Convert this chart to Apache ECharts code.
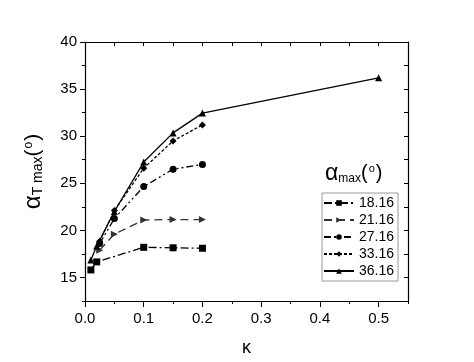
<!DOCTYPE html>
<html>
<head>
<meta charset="utf-8">
<script src="https://cdn.jsdelivr.net/npm/echarts@6/dist/echarts.min.js"></script>
<style>html,body{margin:0;padding:0;background:#fff;}#c{width:474px;height:362px;}</style>
</head>
<body>
<div id="c"></div>
<script>
var seriesNames = ['18.16', '21.16', '27.16', '33.16', '36.16'];
var kappa18 = [0.01, 0.02, 0.1, 0.15, 0.2];
var alpha18 = [15.8, 16.65, 18.2, 18.15, 18.1];
var kappa21 = [0.025, 0.05, 0.1, 0.15, 0.2];
var alpha21 = [17.9, 19.6, 21.1, 21.15, 21.15];
var kappa27 = [0.025, 0.05, 0.1, 0.15, 0.2];
var alpha27 = [18.6, 21.25, 24.65, 26.5, 27.0];
var kappa33 = [0.025, 0.05, 0.1, 0.15, 0.2];
var alpha33 = [18.85, 22.1, 26.6, 29.5, 31.2];
var kappa36 = [0.01, 0.02, 0.05, 0.1, 0.15, 0.2, 0.5];
var alpha36 = [16.85, 18.35, 22.0, 27.25, 30.35, 32.45, 36.2];
var xTicks = [0, 0.1, 0.2, 0.3, 0.4, 0.5];
var xMinorTicks = [0.05, 0.15, 0.25, 0.35, 0.45, 0.55];
var xAllTicks = [0, 0.05, 0.1, 0.15, 0.2, 0.25, 0.3, 0.35, 0.4, 0.45, 0.5, 0.55];
var yTicks = [15, 20, 25, 30, 35, 40];
var yMinorTicks = [12.5, 17.5, 22.5, 27.5, 32.5, 37.5];
var yAllTicks = [12.5, 15, 17.5, 20, 22.5, 25, 27.5, 30, 32.5, 35, 37.5, 40];

function pairs(xs, ys) { return xs.map(function (x, i) { return [x, ys[i]]; }); }

var FONT = '"Liberation Sans", Arial, sans-serif';
var black = '#000';

function mkSeries(name, xs, ys, symbol, rot, dash, color) {
  return {
    name: name, type: 'line', data: pairs(xs, ys),
    xAxisIndex: 0, yAxisIndex: 0,
    symbol: symbol, symbolSize: 7, symbolRotate: rot,
    showAllSymbol: true,
    lineStyle: { color: color, width: 1.3, type: dash },
    itemStyle: { color: color, borderWidth: 0 },
    emphasis: { disabled: true },
    animation: false, z: 5
  };
}

var chart = echarts.init(document.getElementById('c'), null, { renderer: 'canvas' });
var grid = { left: 85, top: 42, right: 66, bottom: 61, containLabel: false };
var xBase = { type: 'value', min: 0, max: 0.55, gridIndex: 0, splitLine: { show: false } };
var yBase = { type: 'value', min: 12.5, max: 40, gridIndex: 0, splitLine: { show: false } };

var titleRich = function (aSize, subSize, pSize, oSize) {
  return {
    a: { fontSize: aSize, fontFamily: FONT, color: black, fill: black, verticalAlign: 'middle', lineHeight: 28 },
    s: { fontSize: subSize, fontFamily: FONT, color: black, fill: black, verticalAlign: 'middle', lineHeight: subSize, padding: [11, 0, 0, 0] },
    p: { fontSize: pSize, fontFamily: FONT, color: black, fill: black, verticalAlign: 'middle', lineHeight: 28 },
    o: { fontSize: oSize, fontFamily: FONT, color: black, fill: black, verticalAlign: 'middle', lineHeight: oSize, padding: [0, 1, 9, 1] }
  };
};

chart.setOption({
  animation: false,
  backgroundColor: '#fff',
  grid: grid,
  xAxis: [
    Object.assign({}, xBase, {
      position: 'bottom',
      name: 'κ', nameLocation: 'middle', nameGap: 38,
      nameTextStyle: { fontFamily: FONT, fontSize: 18, color: black },
      axisLine: { show: true, onZero: false, lineStyle: { color: black, width: 1.2 } },
      axisTick: { show: true, inside: false, length: 6, customValues: xTicks, lineStyle: { color: black, width: 1 } },
      axisLabel: { show: true, customValues: xTicks, margin: 10, fontFamily: FONT, fontSize: 15, color: black,
        formatter: function (v) { return v.toFixed(1); } }
    }),
    Object.assign({}, xBase, {
      position: 'bottom',
      axisLine: { show: false, onZero: false },
      axisTick: { show: true, inside: false, length: 3, customValues: xMinorTicks, lineStyle: { color: black, width: 1 } },
      axisLabel: { show: false }
    }),
    Object.assign({}, xBase, {
      position: 'top',
      axisLine: { show: true, onZero: false, lineStyle: { color: black, width: 1.2 } },
      axisTick: { show: true, inside: true, length: 4, customValues: xAllTicks, lineStyle: { color: black, width: 1 } },
      axisLabel: { show: false }
    })
  ],
  yAxis: [
    Object.assign({}, yBase, {
      position: 'left',
      axisLine: { show: true, onZero: false, lineStyle: { color: black, width: 1.2 } },
      axisTick: { show: true, inside: false, length: 5, customValues: yTicks, lineStyle: { color: black, width: 1 } },
      axisLabel: { show: true, customValues: yTicks, margin: 8, fontFamily: FONT, fontSize: 15, color: black },
      name: '{a|α}{s|T max}{p|(}{o|o}{p|)}',
      nameLocation: 'middle', nameGap: 38, nameRotate: 90,
      nameTextStyle: { color: black, fontFamily: FONT, rich: titleRich(24, 14, 21, 12) }
    }),
    Object.assign({}, yBase, {
      position: 'left',
      axisLine: { show: false, onZero: false },
      axisTick: { show: true, inside: false, length: 3, customValues: yMinorTicks, lineStyle: { color: black, width: 1 } },
      axisLabel: { show: false }
    }),
    Object.assign({}, yBase, {
      position: 'right',
      axisLine: { show: true, onZero: false, lineStyle: { color: black, width: 1.2 } },
      axisTick: { show: true, inside: true, length: 4, customValues: yAllTicks, lineStyle: { color: black, width: 1 } },
      axisLabel: { show: false }
    })
  ],
  legend: {
    data: seriesNames,
    orient: 'vertical',
    left: 322, top: 193,
    padding: [3, 4, 3, 1],
    itemGap: 3,
    itemWidth: 30, itemHeight: 7,
    borderColor: '#999', borderWidth: 1,
    textStyle: { fontFamily: FONT, fontSize: 14, color: black, lineHeight: 14 },
    selectedMode: false
  },
  graphic: [{
    type: 'text',
    left: 325, top: 162,
    style: {
      text: '{a|α}{s|max}{p|(}{o|o}{p|)}',
      fill: black,
      rich: titleRich(23, 12, 20, 11)
    }
  }],
  series: [
    mkSeries(seriesNames[0], kappa18, alpha18, 'rect', 0, [8, 3, 2, 3], '#000'),
    mkSeries(seriesNames[1], kappa21, alpha21, 'triangle', -90, [8, 5], '#333'),
    mkSeries(seriesNames[2], kappa27, alpha27, 'circle', 0, [7, 3, 2, 3, 2, 3], '#000'),
    mkSeries(seriesNames[3], kappa33, alpha33, 'diamond', 0, [3, 2], '#000'),
    mkSeries(seriesNames[4], kappa36, alpha36, 'triangle', 0, 'solid', '#000')
  ]
});
</script>
</body>
</html>
